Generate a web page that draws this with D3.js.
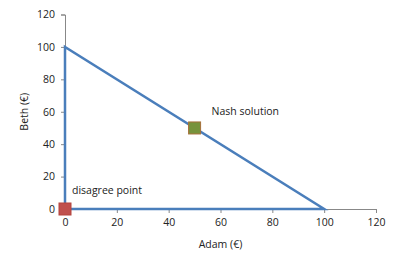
<!DOCTYPE html>
<html><head><meta charset="utf-8">
<script src="https://cdn.jsdelivr.net/npm/d3@7"></script>
<style>body{margin:0;background:#fff}svg{display:block}text{font-family:"Open Sans",sans-serif;fill:#222}</style>
</head><body>
<script>
const xTicks=[0,20,40,60,80,100,120];
const yTicks=[0,20,40,60,80,100,120];
const frontier=[[0,0],[0,100],[100,0],[0,0]];
const points=[{name:"disagree point",x:0,y:0,fill:"#c0504d",stroke:"#b4453f"},{name:"Nash solution",x:50,y:50,fill:"#77933c",stroke:"#a5703a"}];
const xLabel="Adam (€)", yLabel="Beth (€)";

const W=400,H=267;
const svg=d3.select("body").append("svg").attr("width",W).attr("height",H);
const x=d3.scaleLinear().domain([0,120]).range([65,376]);
const y=d3.scaleLinear().domain([0,120]).range([209,14.5]);

const xa=svg.append("g").attr("transform",`translate(0,${y(0)})`)
  .call(d3.axisBottom(x).tickValues(xTicks).tickSize(4).tickPadding(6));
const ya=svg.append("g").attr("transform",`translate(${x(0)},0)`)
  .call(d3.axisLeft(y).tickValues(yTicks).tickSize(4).tickPadding(6));
[xa,ya].forEach(a=>{a.select(".domain").attr("stroke","#888");a.selectAll(".tick line").attr("stroke","#888");
  a.selectAll("text").style("font-size","10.5px").style("font-family","Open Sans").attr("fill","#222");});

svg.append("path").datum(frontier)
  .attr("d",d3.line().x(d=>x(d[0])).y(d=>y(d[1])))
  .attr("fill","none").attr("stroke","#4a7ebb").attr("stroke-width",2.5).attr("stroke-linejoin","miter");

svg.selectAll("rect.m").data(points).enter().append("rect").attr("class","m")
  .attr("x",d=>x(d.x)-6).attr("y",d=>y(d.y)-6).attr("width",12).attr("height",12)
  .attr("fill",d=>d.fill).attr("stroke",d=>d.stroke).attr("stroke-width",1);

svg.append("text").attr("x",x(0)+7).attr("y",y(0)-15).style("font-size","10.5px").text(points[0].name);
svg.append("text").attr("x",x(50)+17).attr("y",y(50)-13).style("font-size","10.5px").text(points[1].name);

svg.append("text").attr("x",(x(0)+x(120))/2).attr("y",248).attr("text-anchor","middle").style("font-size","10.5px").text(xLabel);
svg.append("text").attr("transform",`translate(28,${y(60)}) rotate(-90)`).attr("text-anchor","middle").style("font-size","10.5px").text(yLabel);
</script>
</body></html>
